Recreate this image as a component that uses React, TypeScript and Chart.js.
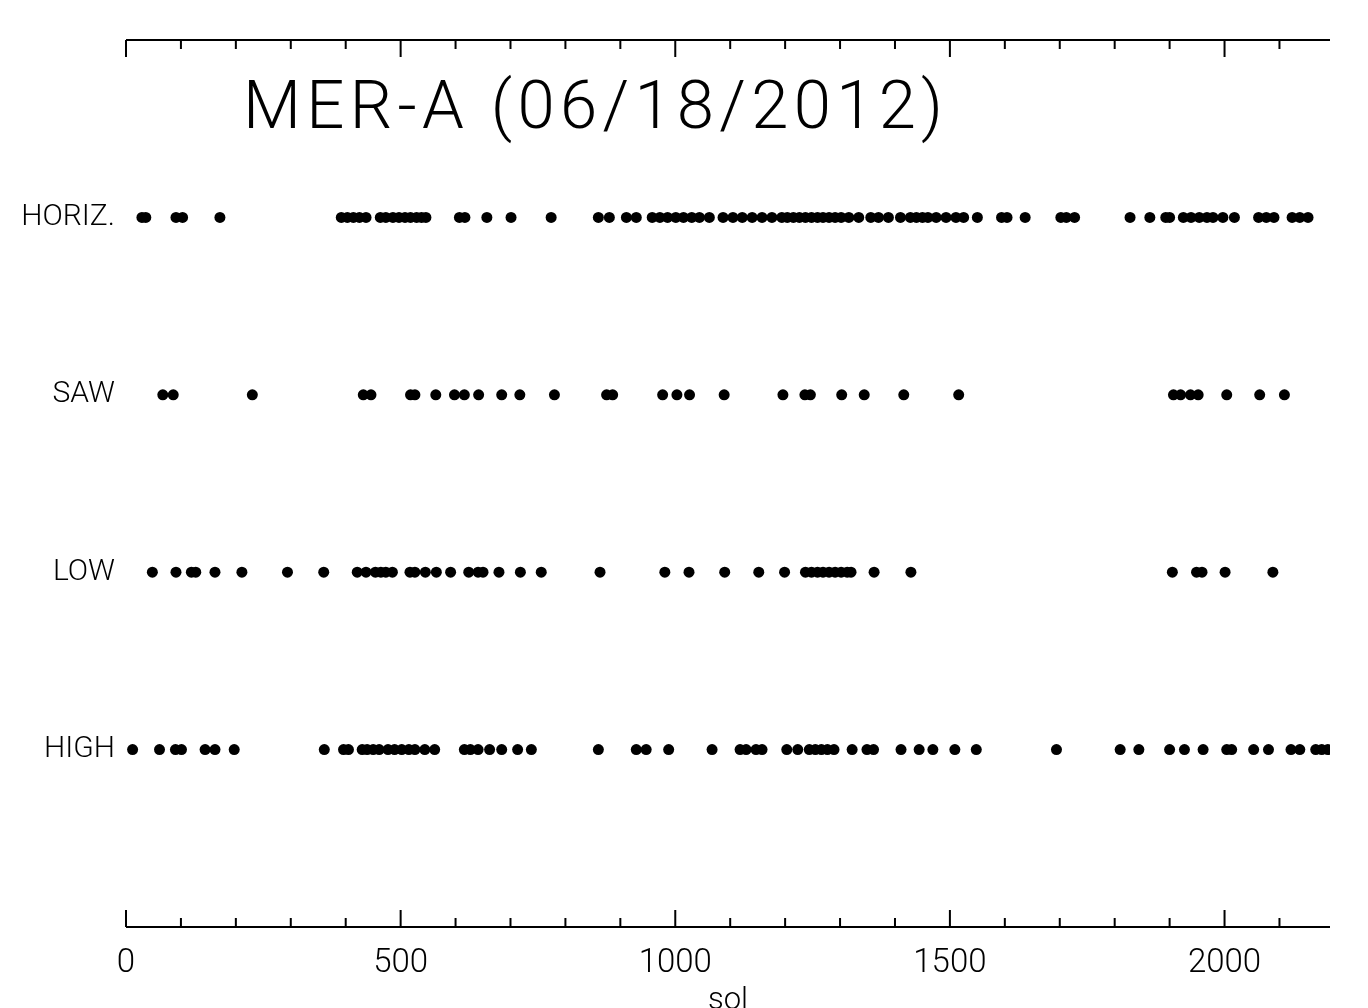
import { useEffect, useRef } from 'react';
import { Chart, registerables } from 'chart.js';

Chart.register(...registerables);

const chartTitle = 'MER-A (06/18/2012)';
const axisTitle = 'sol';
// y = 1..4 from bottom to top
const categories = ['HIGH', 'LOW', 'SAW', 'HORIZ.'];
const solTicks = [0, 500, 1000, 1500, 2000];

const horizSols = [
  29, 36, 91, 103, 171, 392, 403, 414, 425, 437, 463, 473, 486, 497, 508, 518, 529, 538, 546,
  607, 617, 657, 701, 774, 860, 880, 911, 929, 958, 972, 986, 1001, 1015, 1030, 1044, 1062,
  1087, 1105, 1122, 1140, 1158, 1176, 1194, 1204, 1215, 1226, 1237, 1248, 1259, 1269, 1280,
  1291, 1302, 1316, 1334, 1356, 1370, 1388, 1410, 1428, 1439, 1450, 1460, 1475, 1493, 1511,
  1525, 1550, 1594, 1604, 1637, 1702, 1712, 1727, 1828, 1864, 1893, 1900, 1925, 1939, 1954,
  1968, 1979, 1997, 2018, 2062, 2076, 2090, 2123, 2137, 2152,
];
const sawSols = [
  67, 86, 230, 432, 446, 518, 526, 564, 598, 616, 642, 684, 717, 780, 875, 886, 977, 1003,
  1026, 1089, 1196, 1236, 1246, 1303, 1344, 1416, 1516, 1907, 1920, 1938, 1952, 2004, 2064, 2109,
];
const lowSols = [
  48, 91, 119, 127, 162, 211, 294, 360, 421, 437, 454, 464, 473, 485, 517, 526, 545, 565, 591,
  624, 641, 650, 679, 718, 756, 863, 981, 1025, 1090, 1152, 1199, 1237, 1248, 1259, 1269, 1280,
  1291, 1302, 1313, 1320, 1362, 1429, 1905, 1949, 1959, 2001, 2088,
];
const highSols = [
  12, 61, 90, 101, 144, 162, 197, 361, 396, 405, 430, 439, 450, 461, 477, 489, 502, 515, 526,
  544, 562, 616, 627, 641, 662, 684, 713, 738, 860, 929, 947, 988, 1067, 1118, 1129, 1147, 1158,
  1203, 1223, 1244, 1255, 1266, 1277, 1289, 1322, 1349, 1361, 1411, 1444, 1469, 1509, 1548,
  1694, 1810, 1844, 1900, 1927, 1961, 2004, 2013, 2053, 2080, 2121, 2137, 2166, 2177, 2188,
];

const solMax = 2192;
const minorStep = 100;
const majorStep = 500;

const FONT = 'Roboto, "DejaVu Sans", sans-serif';

// axis lines with inward ticks on top and bottom, plus the title inside the plot
const framePlugin = {
  id: 'frame',
  afterDraw(chart: any) {
    const { ctx, chartArea } = chart;
    const xs = chart.scales.x;
    const x0 = xs.getPixelForValue(0);
    const x1 = xs.getPixelForValue(solMax);
    ctx.save();
    ctx.strokeStyle = '#000';
    ctx.lineWidth = 2;
    [chartArea.top, chartArea.bottom].forEach((y: number, i: number) => {
      const dir = i === 0 ? 1 : -1;
      ctx.beginPath();
      ctx.moveTo(x0, y);
      ctx.lineTo(x1, y);
      for (let v = 0; v <= solMax; v += minorStep) {
        const px = xs.getPixelForValue(v);
        const len = v % majorStep === 0 ? 17 : 9;
        ctx.moveTo(px, y);
        ctx.lineTo(px, y + dir * len);
      }
      ctx.stroke();
    });
    ctx.fillStyle = '#000';
    ctx.font = `300 67px ${FONT}`;
    ctx.letterSpacing = '5.3px';
    ctx.textBaseline = 'alphabetic';
    ctx.textAlign = 'left';
    ctx.fillText(chartTitle, chartArea.left + 117, chartArea.top + 88);
    ctx.restore();
  },
};

function points(sols: number[], y: number) {
  return sols.map((x) => ({ x, y }));
}

export default function App() {
  const canvasRef = useRef<HTMLCanvasElement | null>(null);

  useEffect(() => {
    if (canvasRef.current === null) return () => {};
    const series = [highSols, lowSols, sawSols, horizSols];
    const chart = new Chart(canvasRef.current, {
      type: 'scatter',
      data: {
        datasets: series.map((sols, i) => ({
          label: categories[i],
          data: points(sols, i + 1),
          backgroundColor: '#000',
          borderColor: '#000',
          borderWidth: 0,
          pointRadius: 5.5,
          clip: 0,
        })),
      },
      options: {
        animation: false,
        responsive: true,
        maintainAspectRatio: false,
        events: [],
        layout: { padding: { top: 40, right: 38, left: 0, bottom: 0 } },
        plugins: {
          legend: { display: false },
          tooltip: { enabled: false },
        },
        scales: {
          x: {
            type: 'linear',
            position: 'bottom',
            min: 0,
            max: solMax,
            grid: { display: false, drawTicks: false },
            border: { display: false },
            ticks: {
              autoSkip: false,
              maxRotation: 0,
              padding: 17,
              color: '#000',
              font: { family: FONT, size: 33, weight: '300' },
              callback: (v: any) => String(v),
            },
            afterBuildTicks: (scale: any) => {
              scale.ticks = solTicks.map((value) => ({ value }));
            },
            title: {
              display: true,
              text: axisTitle,
              color: '#000',
              font: { family: FONT, size: 31, weight: '300' },
              padding: { top: 0, bottom: -12 },
            },
            afterFit: (scale: any) => {
              scale.height = 81;
            },
          },
          y: {
            type: 'linear',
            min: 0,
            max: 5,
            grid: { display: false, drawTicks: false },
            border: { display: false },
            ticks: {
              autoSkip: false,
              padding: 11,
              color: '#000',
              font: { family: FONT, size: 30, weight: '300' },
              callback: (v: any) => categories[Number(v) - 1] ?? '',
            },
            afterBuildTicks: (scale: any) => {
              scale.ticks = categories.map((_, i) => ({ value: i + 1 }));
            },
            afterFit: (scale: any) => {
              scale.width = 126;
            },
          },
        },
      },
      plugins: [framePlugin],
    });
    return () => {
      chart.destroy();
    };
  }, []);

  return (
    <div style={{ position: 'fixed', left: 0, top: 0, width: 1368, height: 1008, background: '#fff' }}>
      <canvas ref={canvasRef} />
    </div>
  );
}
